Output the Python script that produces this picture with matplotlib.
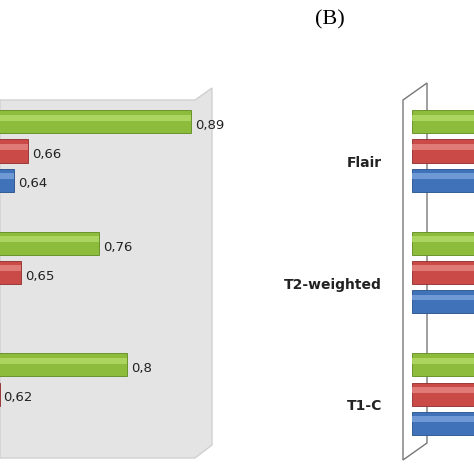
import matplotlib
matplotlib.use("Agg")
import matplotlib.pyplot as plt
from matplotlib.patches import Polygon

groups = ["Flair", "T2-weighted", "T1-C"]
green_vals = [0.89, 0.76, 0.80]
red_vals = [0.66, 0.65, 0.62]
blue_vals = [0.64, 0.60, 0.60]
right_green = [0.9, 0.9, 0.9]
right_red = [0.9, 0.9, 0.9]
right_blue = [0.9, 0.9, 0.9]

colors = {"g": ("#8dbb3c", "#b5dc6a", "#5e8a1e"),
          "r": ("#c94a47", "#e58784", "#8f2b29"),
          "b": ("#3f72b8", "#7ba3dc", "#244f8a")}

W = 474
fig = plt.figure(figsize=(4.74, 4.74), dpi=100)
fig.patch.set_facecolor("white")

ylim = (2.658, -1.243)
offs = [-0.24, 0.0, 0.24]
h = 0.19

# left panel background
fig.patches.append(Polygon([(0, 1-100/W), (195/W, 1-100/W), (212/W, 1-88/W), (212/W, 1-445/W), (195/W, 1-458/W), (0, 1-458/W)],
                           closed=True, transform=fig.transFigure, facecolor="#e4e4e4", edgecolor="#d0d0d0", zorder=-5))
# right panel plate
fig.patches.append(Polygon([(403/W, 1-100/W), (427/W, 1-83/W), (427/W, 1-443/W), (403/W, 1-460/W)],
                           closed=True, transform=fig.transFigure, facecolor="white", edgecolor="#777777", linewidth=1, zorder=-5))

def cyl(ax, ys, vals, key, x0):
    base, light, dark = colors[key]
    for y, v in zip(ys, vals):
        ax.barh(y, v - x0, left=x0, height=h, color=base, edgecolor=dark, linewidth=0.6, zorder=3)
        ax.barh(y - h*0.18, v - x0, left=x0, height=h*0.25, color=light, linewidth=0, zorder=4, alpha=0.8)

ys = [[i + offs[k] for i in range(3)] for k in range(3)]

axL = fig.add_axes([0, 0, 212/W, 1])
axL.patch.set_alpha(0)
x0L = 0.5
cyl(axL, ys[0], green_vals, "g", x0L)
cyl(axL, ys[1], red_vals, "r", x0L)
cyl(axL, ys[2], blue_vals, "b", x0L)
for k, vals in enumerate([green_vals, red_vals, blue_vals]):
    for i, v in enumerate(vals):
        if v > 0.615:
            axL.text(v + 0.005, i + offs[k] + 0.03, f"{v:.2f}".rstrip("0").replace(".", ","),
                     va="center", ha="left", fontsize=9.5, color="#222222", zorder=5, clip_on=False)
axL.set_xlim(0.62, 0.62 + 212/708)
axL.set_ylim(*ylim)
axL.axis("off")

axR = fig.add_axes([412/W, 0, 1 - 412/W, 1])
axR.patch.set_alpha(0)
cyl(axR, ys[0], right_green, "g", 0)
cyl(axR, ys[1], right_red, "r", 0)
cyl(axR, ys[2], right_blue, "b", 0)
axR.set_xlim(0, 0.5)
axR.set_ylim(*ylim)
axR.axis("off")

axT = fig.add_axes([0, 0, 382/W, 1])
axT.patch.set_alpha(0)
axT.set_ylim(*ylim)
axT.set_xlim(0, 1)
axT.axis("off")
for i, g in enumerate(groups):
    axT.text(1, i + 0.1, g, ha="right", va="center", fontsize=10, fontweight="bold", color="#222222")

fig.text(330/W, 1 - 20/W, "(B)", ha="center", va="center", fontsize=16, family="Liberation Serif")

fig.savefig("out.png", dpi=100)
